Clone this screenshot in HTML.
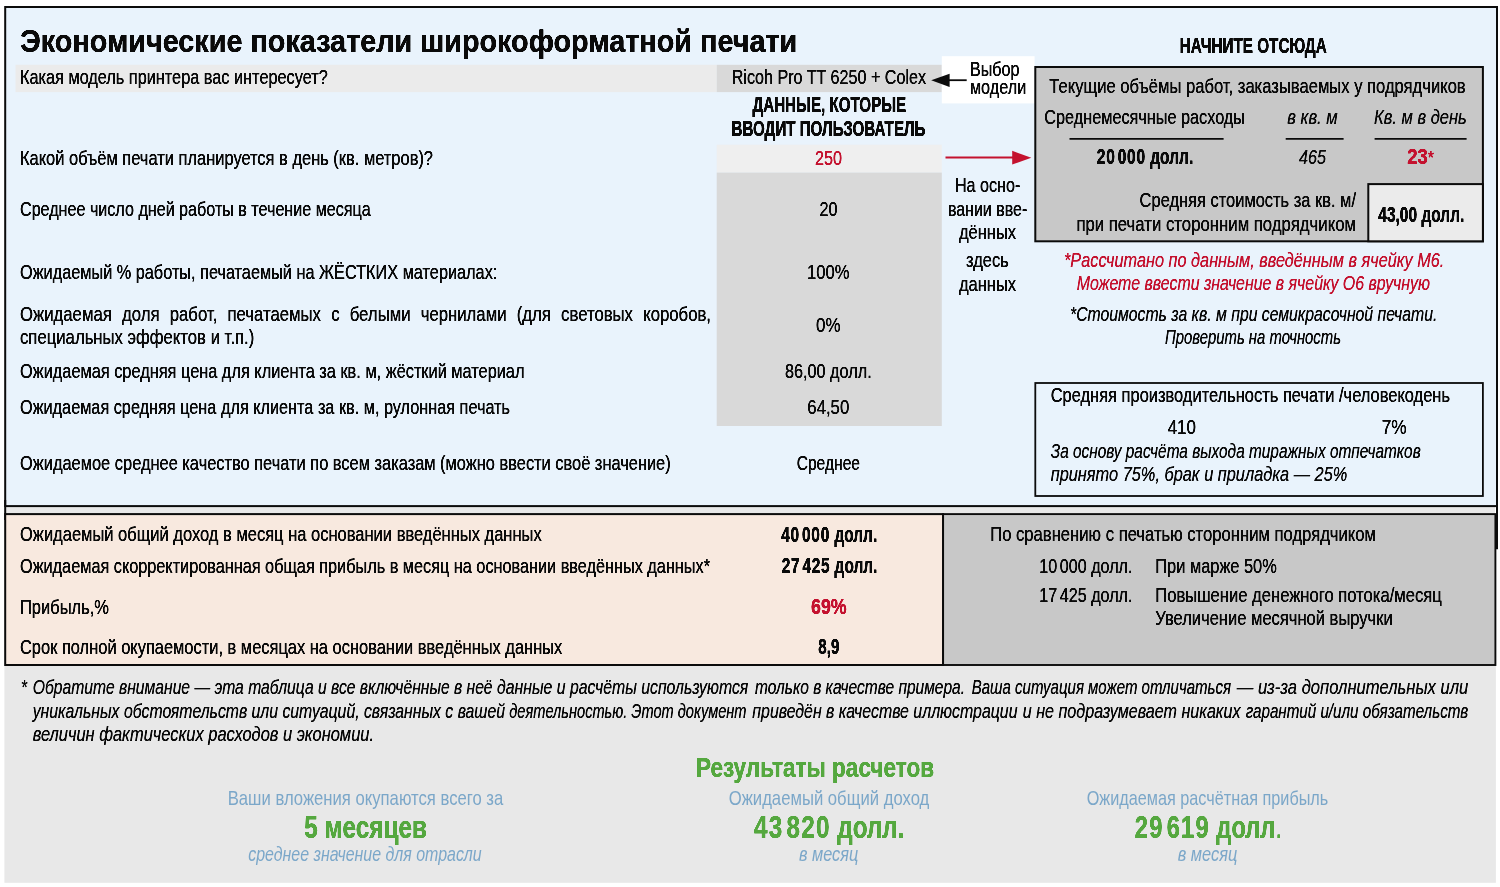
<!DOCTYPE html>
<html lang="ru">
<head>
<meta charset="utf-8">
<title>Экономические показатели широкоформатной печати</title>
<style>
html,body{margin:0;padding:0;background:#fff;}
body{width:1500px;height:887px;overflow:hidden;}
svg{display:block;}
text{font-family:"Liberation Sans",sans-serif;white-space:pre;}
</style>
</head>
<body>
<svg width="1500" height="887" viewBox="0 0 1500 887" fill="#0a0a0a">
<rect x="0" y="0" width="1500" height="887" fill="#ffffff"/>
<rect x="4.4" y="660" width="1491.5" height="222.8" fill="#e8e8e8"/>
<rect x="4.4" y="500" width="1490.6" height="20" fill="#e8e8e8"/>
<rect x="5.2" y="7.0" width="1491.8" height="499.1" fill="#e9f3fc" stroke="#0b0b0b" stroke-width="2"/>
<line x1="1497.0" y1="500" x2="1497.0" y2="549.2" stroke="#0b0b0b" stroke-width="2"/>
<line x1="5.2" y1="500" x2="5.2" y2="520" stroke="#0b0b0b" stroke-width="2"/>
<rect x="15.5" y="64.8" width="701.2" height="27.3" fill="#ebebeb"/>
<rect x="716.7" y="64.8" width="225.1" height="27.3" fill="#d9d9d9"/>
<rect x="716.7" y="144.7" width="225.1" height="27.9" fill="#efefef"/>
<rect x="716.7" y="172.6" width="225.1" height="253.4" fill="#d9d9d9"/>
<rect x="941.8" y="56.2" width="92.8" height="47.2" fill="#ffffff"/>
<rect x="1035.3" y="67.0" width="447.6" height="174.3" fill="#c8c8c8" stroke="#0b0b0b" stroke-width="2"/>
<rect x="1368.3" y="184.1" width="114.6" height="57.2" fill="#ebebeb" stroke="#0b0b0b" stroke-width="2"/>
<line x1="1069.5" y1="138.8" x2="1223.6" y2="138.8" stroke="#0b0b0b" stroke-width="1.8"/>
<line x1="1285.7" y1="138.8" x2="1343.6" y2="138.8" stroke="#0b0b0b" stroke-width="1.8"/>
<line x1="1374.6" y1="138.8" x2="1466.6" y2="138.8" stroke="#0b0b0b" stroke-width="1.8"/>
<rect x="1035.3" y="383.0" width="447.6" height="113.0" fill="none" stroke="#0b0b0b" stroke-width="1.8"/>
<rect x="5.2" y="514.1" width="937.9" height="150.9" fill="#f8e9df" stroke="#0b0b0b" stroke-width="2"/>
<rect x="943.1" y="514.1" width="552.3" height="150.9" fill="#c8c8c8" stroke="#0b0b0b" stroke-width="1.9"/>
<line x1="945" y1="80.2" x2="966.7" y2="80.2" stroke="#0b0b0b" stroke-width="1.8"/>
<polygon points="931.2,80.2 949.6,73.7 949.6,86.9" fill="#0b0b0b"/>
<line x1="945.5" y1="157.6" x2="1015" y2="157.6" stroke="#c4122f" stroke-width="2"/>
<polygon points="1031.3,157.7 1012.2,150.8 1012.2,164.6" fill="#c4122f"/>
<defs>
<filter id="thk" x="0" y="0" width="1500" height="887" filterUnits="userSpaceOnUse" color-interpolation-filters="sRGB"><feGaussianBlur stdDeviation="0.48 0"/><feComponentTransfer><feFuncA type="linear" slope="1.75" intercept="0"/></feComponentTransfer></filter>
<filter id="thki" x="0" y="0" width="1500" height="887" filterUnits="userSpaceOnUse" color-interpolation-filters="sRGB"><feGaussianBlur stdDeviation="0.36 0"/><feComponentTransfer><feFuncA type="linear" slope="1.5" intercept="0"/></feComponentTransfer></filter>
<filter id="thkb" x="0" y="0" width="1500" height="887" filterUnits="userSpaceOnUse" color-interpolation-filters="sRGB"><feGaussianBlur stdDeviation="0.6 0.25"/><feComponentTransfer><feFuncA type="linear" slope="2.1" intercept="0"/></feComponentTransfer></filter>
</defs>
<g filter="url(#thk)">
<text x="20" y="83.8" font-size="21" textLength="307.7" lengthAdjust="spacingAndGlyphs">Какая модель принтера вас интересует?</text>
<text x="20" y="164.5" font-size="21" textLength="413" lengthAdjust="spacingAndGlyphs">Какой объём печати планируется в день (кв. метров)?</text>
<text x="20" y="215.5" font-size="21" textLength="350.7" lengthAdjust="spacingAndGlyphs">Среднее число дней работы в течение месяца</text>
<text x="20" y="278.5" font-size="21" textLength="477.3" lengthAdjust="spacingAndGlyphs">Ожидаемый % работы, печатаемый на ЖЁСТКИХ материалах:</text>
<text x="20" y="320.9" font-size="21" textLength="691" lengthAdjust="spacingAndGlyphs" word-spacing="7">Ожидаемая доля работ, печатаемых с белыми чернилами (для световых коробов,</text>
<text x="20" y="343.6" font-size="21" textLength="234.3" lengthAdjust="spacingAndGlyphs">специальных эффектов и т.п.)</text>
<text x="20" y="378.0" font-size="21" textLength="504.5" lengthAdjust="spacingAndGlyphs">Ожидаемая средняя цена для клиента за кв. м, жёсткий материал</text>
<text x="20" y="414.3" font-size="21" textLength="490" lengthAdjust="spacingAndGlyphs">Ожидаемая средняя цена для клиента за кв. м, рулонная печать</text>
<text x="20" y="469.5" font-size="21" textLength="650.7" lengthAdjust="spacingAndGlyphs">Ожидаемое среднее качество печати по всем заказам (можно ввести своё значение)</text>
<text x="731.7" y="83.8" font-size="21" textLength="194.3" lengthAdjust="spacingAndGlyphs">Ricoh Pro TT 6250 + Colex</text>
<text x="815" y="164.5" font-size="21" textLength="27" lengthAdjust="spacingAndGlyphs" fill="#c4122f">250</text>
<text x="819.5" y="215.5" font-size="21" textLength="18.0" lengthAdjust="spacingAndGlyphs">20</text>
<text x="807" y="278.5" font-size="21" textLength="42.5" lengthAdjust="spacingAndGlyphs">100%</text>
<text x="816" y="332.2" font-size="21" textLength="24.5" lengthAdjust="spacingAndGlyphs">0%</text>
<text x="785" y="378.0" font-size="21" textLength="86.7" lengthAdjust="spacingAndGlyphs">86,00 долл.</text>
<text x="807.3" y="414.3" font-size="21" textLength="42.0" lengthAdjust="spacingAndGlyphs">64,50</text>
<text x="796.7" y="469.5" font-size="21" textLength="63.3" lengthAdjust="spacingAndGlyphs">Среднее</text>
<text x="969.9" y="76.4" font-size="20.5" textLength="49.5" lengthAdjust="spacingAndGlyphs">Выбор</text>
<text x="969.9" y="94.2" font-size="20.5" textLength="56.3" lengthAdjust="spacingAndGlyphs">модели</text>
<text x="954.9" y="192.0" font-size="21" textLength="65.4" lengthAdjust="spacingAndGlyphs">На осно-</text>
<text x="947.9" y="215.7" font-size="21" textLength="79.4" lengthAdjust="spacingAndGlyphs">вании вве-</text>
<text x="958.9" y="239.3" font-size="21" textLength="57.2" lengthAdjust="spacingAndGlyphs">дённых</text>
<text x="966.1" y="267.1" font-size="21" textLength="42.6" lengthAdjust="spacingAndGlyphs">здесь</text>
<text x="958.9" y="290.7" font-size="21" textLength="57.2" lengthAdjust="spacingAndGlyphs">данных</text>
<text x="1049.3" y="92.8" font-size="21" textLength="416.4" lengthAdjust="spacingAndGlyphs">Текущие объёмы работ, заказываемых у подрядчиков</text>
<text x="1044.3" y="124.2" font-size="21" textLength="200.7" lengthAdjust="spacingAndGlyphs">Среднемесячные расходы</text>
<text x="1139.6" y="206.5" font-size="21" textLength="216.4" lengthAdjust="spacingAndGlyphs">Средняя стоимость за кв. м/</text>
<text x="1076.4" y="230.5" font-size="21" textLength="279.6" lengthAdjust="spacingAndGlyphs">при печати сторонним подрядчиком</text>
<text x="1050.7" y="402.2" font-size="21" textLength="399.3" lengthAdjust="spacingAndGlyphs">Средняя производительность печати /человекодень</text>
<text x="1167.7" y="433.8" font-size="21" textLength="28.3" lengthAdjust="spacingAndGlyphs">410</text>
<text x="1381.7" y="433.8" font-size="21" textLength="25.0" lengthAdjust="spacingAndGlyphs">7%</text>
<text x="20" y="541.2" font-size="21" textLength="521.7" lengthAdjust="spacingAndGlyphs">Ожидаемый общий доход в месяц на основании введённых данных</text>
<text x="20" y="572.8" font-size="21" textLength="690" lengthAdjust="spacingAndGlyphs">Ожидаемая скорректированная общая прибыль в месяц на основании введённых данных*</text>
<text x="20" y="613.8" font-size="21" textLength="89" lengthAdjust="spacingAndGlyphs">Прибыль,%</text>
<text x="20" y="653.8" font-size="21" textLength="542.3" lengthAdjust="spacingAndGlyphs">Срок полной окупаемости, в месяцах на основании введённых данных</text>
<text x="990.2" y="541.4" font-size="21" textLength="385.8" lengthAdjust="spacingAndGlyphs">По сравнению с печатью сторонним подрядчиком</text>
<text x="1039.3" y="573.0" font-size="21" textLength="93.1" lengthAdjust="spacingAndGlyphs">10 000 долл.</text>
<text x="1155.3" y="573.0" font-size="21" textLength="121.5" lengthAdjust="spacingAndGlyphs">При марже 50%</text>
<text x="1039.3" y="601.5" font-size="21" textLength="93.1" lengthAdjust="spacingAndGlyphs">17 425 долл.</text>
<text x="1155.3" y="601.5" font-size="21" textLength="286.4" lengthAdjust="spacingAndGlyphs">Повышение денежного потока/месяц</text>
<text x="1155.3" y="625.2" font-size="21" textLength="237.4" lengthAdjust="spacingAndGlyphs">Увеличение месячной выручки</text>
</g>
<g filter="url(#thki)">
<text x="1287.3" y="124.2" font-size="21" textLength="50.4" lengthAdjust="spacingAndGlyphs" font-style="italic">в кв. м</text>
<text x="1374" y="124.2" font-size="21" textLength="92.7" lengthAdjust="spacingAndGlyphs" font-style="italic">Кв. м в день</text>
<text x="1299" y="163.9" font-size="21" textLength="27" lengthAdjust="spacingAndGlyphs" font-style="italic">465</text>
<text x="1064" y="266.5" font-size="21" textLength="380.3" lengthAdjust="spacingAndGlyphs" font-style="italic" fill="#c4122f">*Рассчитано по данным, введённым в ячейку М6.</text>
<text x="1076.7" y="289.5" font-size="21" textLength="353.3" lengthAdjust="spacingAndGlyphs" font-style="italic" fill="#c4122f">Можете ввести значение в ячейку О6 вручную</text>
<text x="1070" y="320.8" font-size="21" textLength="367.3" lengthAdjust="spacingAndGlyphs" font-style="italic">*Стоимость за кв. м при семикрасочной печати.</text>
<text x="1165" y="343.5" font-size="21" textLength="176" lengthAdjust="spacingAndGlyphs" font-style="italic">Проверить на точность</text>
<text x="1050.7" y="457.8" font-size="21" textLength="370.0" lengthAdjust="spacingAndGlyphs" font-style="italic">За основу расчёта выхода тиражных отпечатков</text>
<text x="1050.7" y="481.2" font-size="21" textLength="296.6" lengthAdjust="spacingAndGlyphs" font-style="italic">принято 75%, брак и приладка — 25%</text>
<text x="20.7" y="693.8" font-size="21" textLength="6.3" lengthAdjust="spacingAndGlyphs" font-style="italic">*</text>
<text x="32.7" y="693.8" font-size="21" textLength="459.9" lengthAdjust="spacingAndGlyphs" font-style="italic">Обратите внимание — эта таблица и все включённые в неё</text>
<text x="497.0" y="693.8" font-size="21" textLength="251.3" lengthAdjust="spacingAndGlyphs" font-style="italic">данные и расчёты используются</text>
<text x="755" y="693.8" font-size="21" textLength="210" lengthAdjust="spacingAndGlyphs" font-style="italic">только в качестве примера.</text>
<text x="971.7" y="693.8" font-size="21" textLength="259.3" lengthAdjust="spacingAndGlyphs" font-style="italic">Ваша ситуация может отличаться</text>
<text x="1236.7" y="693.8" font-size="21" textLength="231.6" lengthAdjust="spacingAndGlyphs" font-style="italic">— из-за дополнительных или</text>
<text x="32.7" y="717.8" font-size="21" textLength="472.3" lengthAdjust="spacingAndGlyphs" font-style="italic">уникальных обстоятельств или ситуаций, связанных с вашей</text>
<text x="509.3" y="717.8" font-size="21" textLength="237.2" lengthAdjust="spacingAndGlyphs" font-style="italic">деятельностью. Этот документ</text>
<text x="752.3" y="717.8" font-size="21" textLength="265.2" lengthAdjust="spacingAndGlyphs" font-style="italic">приведён в качестве иллюстрации</text>
<text x="1022.7" y="717.8" font-size="21" textLength="217.8" lengthAdjust="spacingAndGlyphs" font-style="italic">и не подразумевает никаких</text>
<text x="1245.7" y="717.8" font-size="21" textLength="222.6" lengthAdjust="spacingAndGlyphs" font-style="italic">гарантий и/или обязательств</text>
<text x="32.7" y="741.2" font-size="21" textLength="341.3" lengthAdjust="spacingAndGlyphs" font-style="italic">величин фактических расходов и экономии.</text>
</g>
<g filter="url(#thkb)">
<text x="20.3" y="51.7" font-size="31.2" textLength="776.9" lengthAdjust="spacingAndGlyphs" font-weight="bold">Экономические показатели широкоформатной печати</text>
<text x="752.4" y="112.0" font-size="22.3" textLength="153.8" lengthAdjust="spacingAndGlyphs" font-weight="bold">ДАННЫЕ, КОТОРЫЕ</text>
<text x="731.5" y="135.8" font-size="22.3" textLength="194.0" lengthAdjust="spacingAndGlyphs" font-weight="bold">ВВОДИТ ПОЛЬЗОВАТЕЛЬ</text>
<text x="1179.8" y="53.2" font-size="22.3" textLength="146.9" lengthAdjust="spacingAndGlyphs" font-weight="bold">НАЧНИТЕ ОТСЮДА</text>
<text x="1096.8" y="164.0" font-size="22" textLength="96.4" lengthAdjust="spacingAndGlyphs" font-weight="bold"><tspan letter-spacing="1.1">20 000</tspan> долл.</text>
<text x="1407.3" y="163.9" font-size="22" textLength="26.7" lengthAdjust="spacingAndGlyphs" font-weight="bold" fill="#c4122f">23<tspan font-weight="normal" font-size="19">*</tspan></text>
<text x="1378.3" y="221.8" font-size="22" textLength="86.0" lengthAdjust="spacingAndGlyphs" font-weight="bold">43,00 долл.</text>
<text x="781.2" y="541.6" font-size="22" textLength="96.0" lengthAdjust="spacingAndGlyphs" font-weight="bold"><tspan letter-spacing="1.1">40 000</tspan> долл.</text>
<text x="781.7" y="573.2" font-size="22" textLength="95.5" lengthAdjust="spacingAndGlyphs" font-weight="bold"><tspan letter-spacing="1.1">27 425</tspan> долл.</text>
<text x="811" y="613.8" font-size="22" textLength="35.7" lengthAdjust="spacingAndGlyphs" font-weight="bold" fill="#c4122f">69%</text>
<text x="818.3" y="653.8" font-size="22" textLength="21.0" lengthAdjust="spacingAndGlyphs" font-weight="bold">8,9</text>
<text x="696" y="777" font-size="28" textLength="238" lengthAdjust="spacingAndGlyphs" font-weight="bold" fill="#55a83f">Результаты расчетов</text>
<text x="304.2" y="837.6" font-size="31.3" textLength="122.8" lengthAdjust="spacingAndGlyphs" font-weight="bold" fill="#55a83f">5 месяцев</text>
<text x="754" y="837.6" font-size="31.3" textLength="150.3" lengthAdjust="spacingAndGlyphs" font-weight="bold" fill="#55a83f"><tspan letter-spacing="1.57">43 820</tspan> долл.</text>
<text x="1134.8" y="837.6" font-size="31.3" textLength="147.2" lengthAdjust="spacingAndGlyphs" font-weight="bold" fill="#55a83f"><tspan letter-spacing="1.57">29 619</tspan> долл<tspan font-weight="normal">.</tspan></text>
</g>
<g>
<text x="227.7" y="804.5" font-size="21" textLength="275.6" lengthAdjust="spacingAndGlyphs" fill="#7ba7c9">Ваши вложения окупаются всего за</text>
<text x="248.3" y="860.5" font-size="21" textLength="233.4" lengthAdjust="spacingAndGlyphs" font-style="italic" fill="#7ba7c9">среднее значение для отрасли</text>
<text x="728.7" y="804.5" font-size="21" textLength="200.6" lengthAdjust="spacingAndGlyphs" fill="#7ba7c9">Ожидаемый общий доход</text>
<text x="799" y="860.5" font-size="21" textLength="59.3" lengthAdjust="spacingAndGlyphs" font-style="italic" fill="#7ba7c9">в месяц</text>
<text x="1086.7" y="804.5" font-size="21" textLength="241.6" lengthAdjust="spacingAndGlyphs" fill="#7ba7c9">Ожидаемая расчётная прибыль</text>
<text x="1177.7" y="860.5" font-size="21" textLength="59.6" lengthAdjust="spacingAndGlyphs" font-style="italic" fill="#7ba7c9">в месяц</text>
</g>
</svg>
</body>
</html>
